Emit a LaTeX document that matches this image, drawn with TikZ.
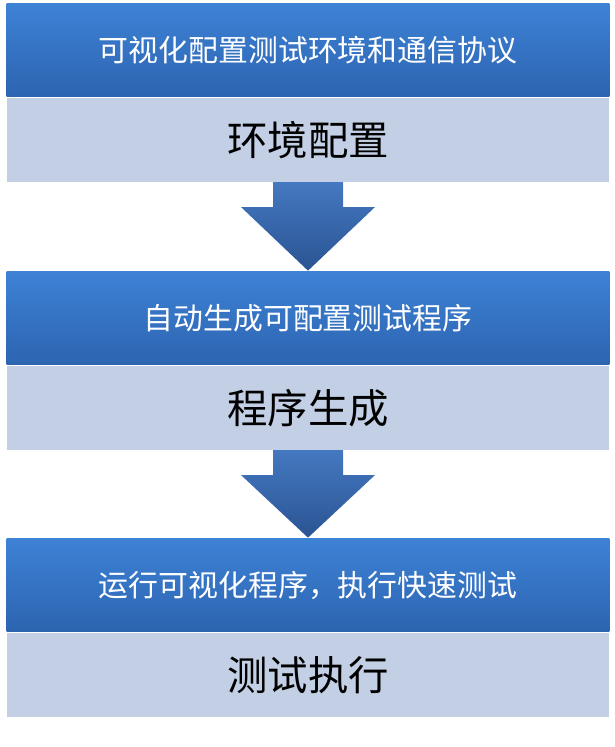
\documentclass[tikz,border=0pt]{standalone}
\usepackage{fontspec}
\newfontfamily\cjk{Noto Sans CJK SC}
\usetikzlibrary{positioning,calc}
\definecolor{bandtop}{HTML}{3E82D6}
\definecolor{bandbot}{HTML}{2C64B0}
\definecolor{graybox}{HTML}{C3CFE5}
\definecolor{arrtop}{HTML}{4478C0}
\definecolor{arrbot}{HTML}{2A5493}
\tikzset{
  titlebox/.style={minimum width=12.06cm, minimum height=1.88cm, inner sep=0pt,
    top color=bandtop, bottom color=bandbot, text=white, font=\cjk\fontsize{17}{20}\selectfont},
  namebox/.style={minimum width=12.06cm, minimum height=1.68cm, inner sep=0pt,
    fill=graybox, text=black, font=\cjk\fontsize{23}{27}\selectfont},
  downarrow/.style={top color=arrtop, bottom color=arrbot, draw=none}
}
\begin{document}
\begin{tikzpicture}[x=0.02cm, y=-0.02cm]
  \useasboundingbox (0,0) rectangle (615,747);

  \node[titlebox] (env title) at (308,50) {可视化配置测试环境和通信协议};
  \node[namebox, below=0pt of env title] (env) {环境配置};

  \node[titlebox] (gen title) at (308,318) {自动生成可配置测试程序};
  \node[namebox, below=0pt of gen title] (gen) {程序生成};

  \node[titlebox] (run title) at (308,585) {运行可视化程序，执行快速测试};
  \node[namebox, below=0pt of run title] (run) {测试执行};

  % Arrows between the steps
  \foreach \a/\b in {env/gen title, gen/run title} {
    \path (\a.south) coordinate (s) (\b.north) coordinate (e);
    \shade[downarrow] ($(s)+(-35,0)$) -- ($(s)+(35,0)$) -- ($(s)+(35,25)$)
      -- ($(s)+(67,25)$) -- (e) -- ($(s)+(-67,25)$) -- ($(s)+(-35,25)$) -- cycle;
  }
\end{tikzpicture}
\end{document}
